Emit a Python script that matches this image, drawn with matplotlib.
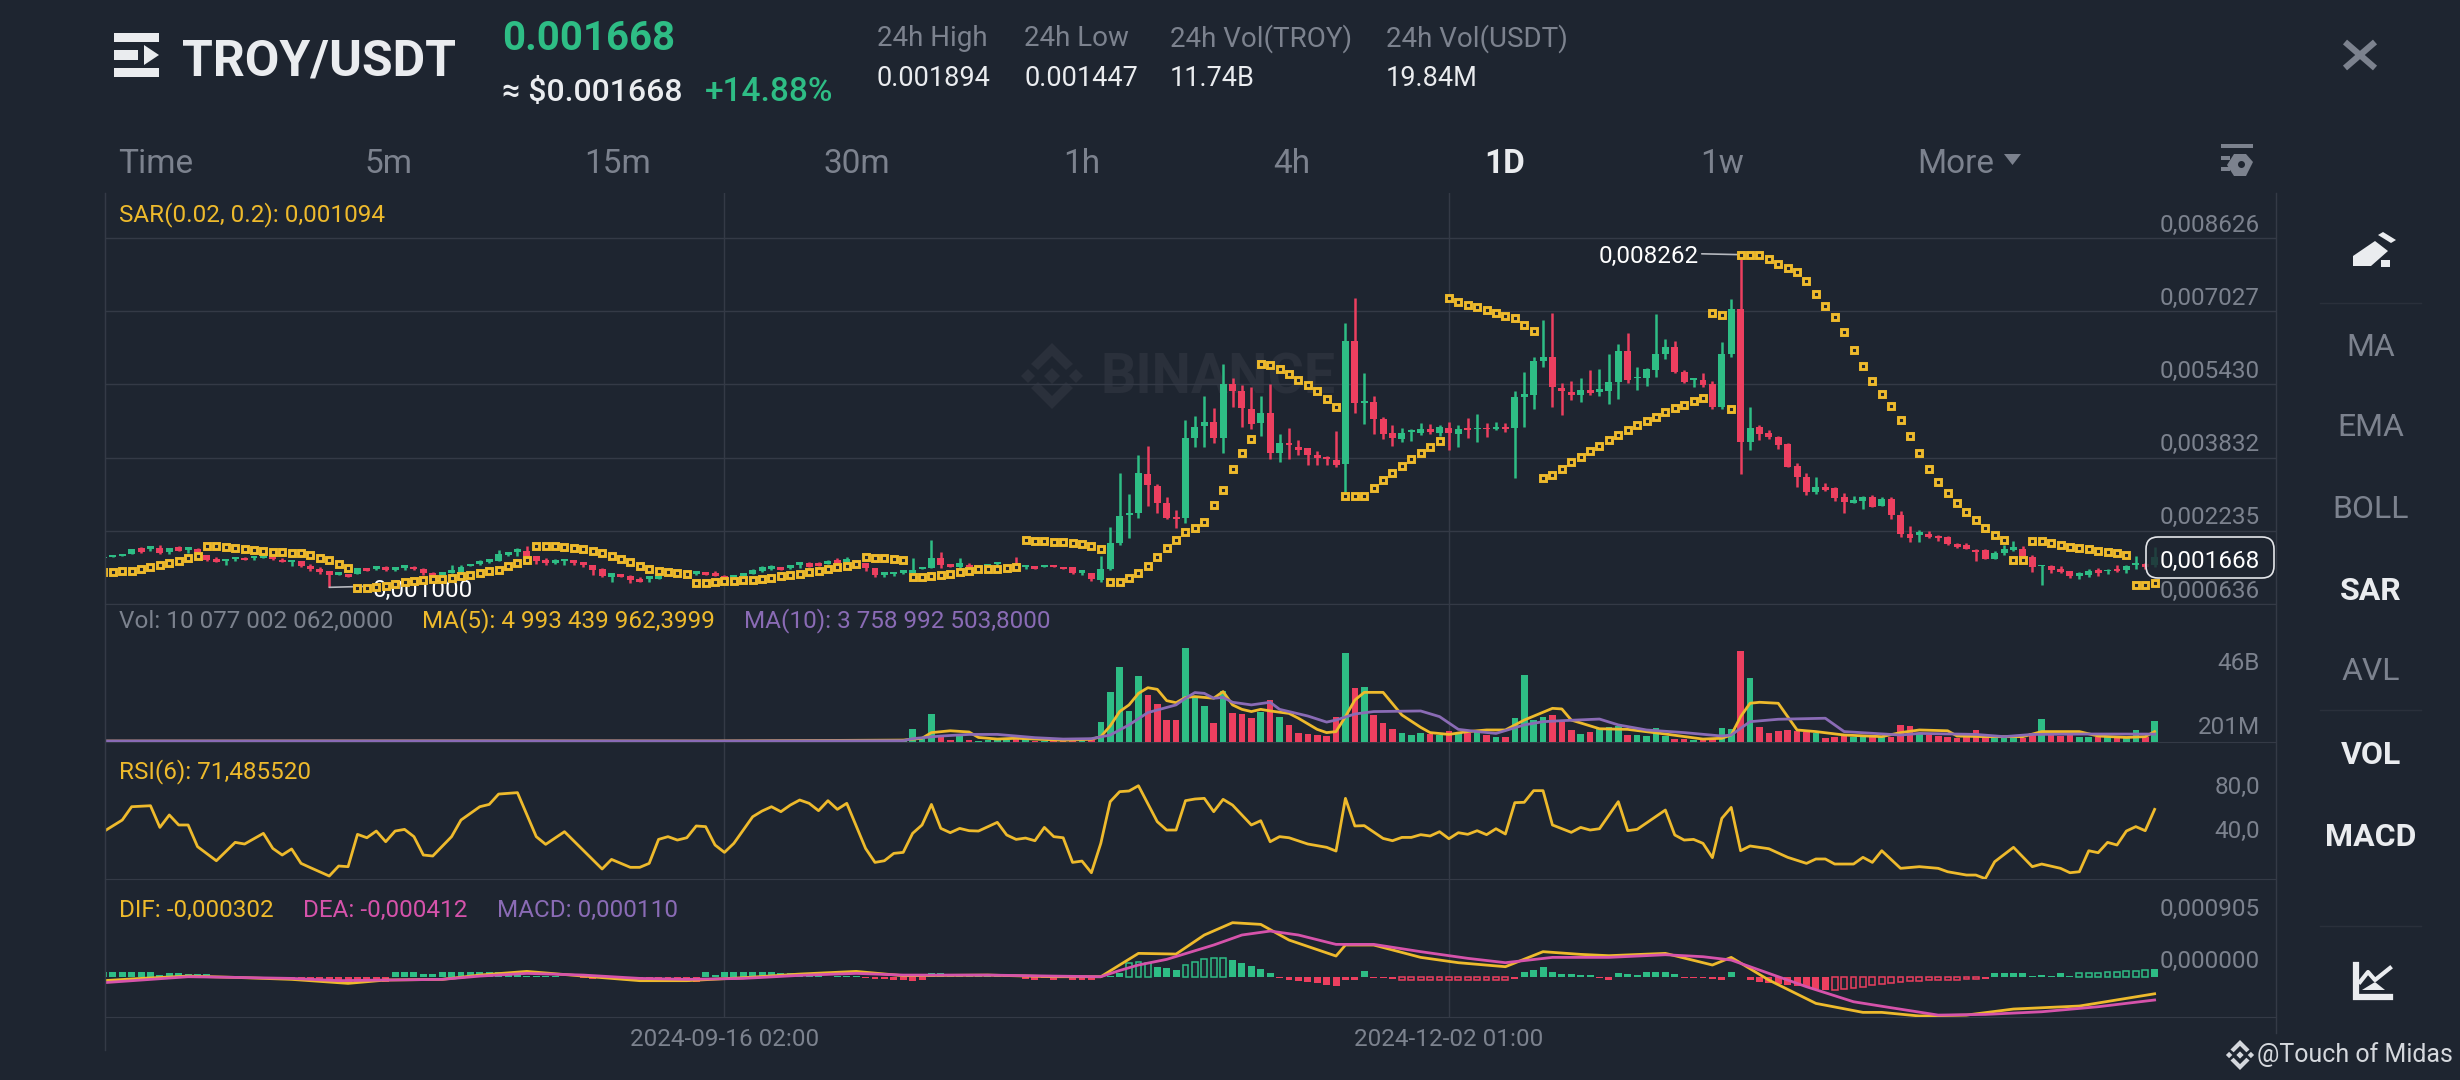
import matplotlib
matplotlib.use('Agg')
import numpy as np
import matplotlib.pyplot as plt
from matplotlib.patches import FancyBboxPatch, Polygon, Rectangle

plt.rcParams['font.family'] = ['Roboto', 'DejaVu Sans']

# prices are in millionths of a USDT, one entry per daily candle
opens = [1632,1662,1691,1727,1858,1843,1865,1771,1873,1814,
         1829,1698,1611,1582,1611,1647,1640,1647,1683,1603,
         1545,1582,1472,1407,1349,1269,1298,1290,1421,1407,
         1451,1378,1429,1451,1400,1305,1276,1320,1341,1465,
         1509,1560,1582,1713,1771,1800,1691,1596,1523,1567,
         1596,1552,1487,1407,1232,1290,1247,1181,1181,1181,
         1305,1290,1290,1290,1341,1320,1254,1218,1247,1290,
         1363,1407,1451,1429,1494,1523,1523,1509,1596,1560,
         1523,1538,1414,1276,1290,1320,1305,1393,1429,1647,
         1502,1451,1487,1415,1465,1502,1436,1487,1451,1465,
         1444,1487,1451,1451,1305,1305,1160,1407,1960,2572,
         2615,3474,3212,2834,2528,2506,4253,4522,4609,4253,
         5439,5293,4900,4580,4798,3940,4144,4071,4034,3881,
         3852,3780,3692,6385,5031,5046,4667,4362,4231,4384,
         4376,4449,4376,4485,4340,4471,4449,4485,4464,4500,
         4478,5162,5199,5948,6035,5359,5272,5206,5308,5264,
         5293,5482,6159,5562,5562,5744,6086,6254,5708,5526,
         5526,5431,4929,6094,7083,4180,4493,4362,4289,4122,
         3649,3401,3088,3197,3176,2965,2848,2892,2979,2775,
         2935,2579,2164,2135,2164,2120,2091,1946,1917,1815,
         1815,1626,1757,1815,1844,1669,1465,1465,1393,1349,
         1247,1262,1378,1349,1407,1378,1480,1509,1480]
highs = [1683,1698,1734,1836,1887,1902,1916,1858,1909,1873,
         1858,1698,1662,1625,1662,1669,1683,1698,1683,1640,
         1603,1582,1509,1451,1349,1327,1298,1421,1421,1458,
         1472,1436,1487,1465,1414,1327,1334,1480,1487,1509,
         1589,1618,1814,1778,1851,1902,1691,1632,1625,1625,
         1596,1552,1487,1429,1305,1290,1269,1218,1239,1276,
         1349,1334,1341,1349,1341,1363,1269,1276,1305,1400,
         1465,1487,1451,1487,1545,1552,1560,1596,1647,1662,
         1582,1538,1429,1334,1334,1370,1633,1451,2033,1778,
         1502,1633,1538,1465,1517,1546,1487,1669,1495,1465,
         1495,1487,1451,1451,1371,1305,1684,2310,3488,3038,
         3889,4085,3256,2979,2688,4653,4740,5177,4908,5875,
         5577,5410,5381,5177,5431,4347,4485,4216,4034,3983,
         3867,4413,6763,7309,5686,5177,4711,4544,4485,4449,
         4580,4566,4544,4602,4536,4689,4784,4595,4602,4580,
         5286,5701,6035,6836,6981,5453,5512,5577,5744,5766,
         6094,6312,6545,5817,5781,6960,6414,6378,5744,5562,
         5686,5512,6363,7294,8262,4929,4544,4434,4304,4144,
         3707,3488,3416,3285,3183,3052,2994,2994,3016,2965,
         2965,2666,2339,2251,2230,2142,2120,1960,1975,1829,
         1844,1800,1917,2019,1902,1713,1495,1487,1465,1364,
         1342,1393,1415,1393,1487,1480,1684,1538,1873]
lows = [1611,1655,1685,1727,1742,1800,1720,1727,1800,1742,
        1771,1567,1560,1487,1582,1589,1596,1640,1596,1545,
        1465,1451,1363,1290,1000,1269,1232,1283,1363,1385,
        1363,1349,1378,1378,1276,1225,1276,1320,1334,1465,
        1487,1523,1582,1683,1683,1683,1509,1480,1509,1487,
        1480,1451,1276,1232,1123,1218,1101,1108,1123,1181,
        1305,1290,1290,1261,1269,1254,1196,1218,1247,1290,
        1341,1378,1378,1392,1429,1451,1465,1509,1523,1560,
        1523,1363,1218,1232,1254,1283,1233,1393,1429,1415,
        1436,1415,1451,1415,1465,1451,1436,1378,1407,1393,
        1444,1444,1393,1284,1269,1131,1116,1378,1924,2069,
        2506,2775,2615,2484,2295,2412,4056,4071,4144,3925,
        4944,4493,4449,4304,3809,3743,3809,3889,3670,3670,
        3670,3634,3001,4813,4566,4340,4231,4085,4180,4202,
        4325,4340,4304,3998,4071,4253,4180,4289,4434,4384,
        3379,4493,4893,5817,4944,4755,5090,5046,5199,5177,
        4995,5111,5453,5308,5395,5584,5977,5672,5453,5381,
        5381,4886,4886,6021,3474,3998,4216,4231,4013,3634,
        3197,3016,3038,3110,2892,2615,2848,2717,2761,2775,
        2484,2106,1989,1989,2077,2004,1931,1858,1829,1582,
        1611,1626,1698,1786,1669,1335,1058,1305,1320,1196,
        1189,1233,1254,1284,1335,1320,1393,1393,1451]
closes = [1669,1698,1734,1836,1771,1902,1756,1858,1800,1873,
          1771,1596,1560,1625,1662,1589,1683,1698,1618,1560,
          1603,1472,1400,1334,1276,1327,1232,1421,1363,1458,
          1378,1436,1487,1392,1305,1232,1334,1378,1451,1509,
          1574,1618,1727,1778,1836,1683,1582,1523,1596,1625,
          1538,1480,1378,1247,1305,1218,1159,1116,1239,1276,
          1349,1334,1341,1349,1269,1254,1196,1276,1305,1378,
          1436,1472,1378,1487,1545,1451,1465,1582,1523,1611,
          1582,1414,1269,1334,1334,1370,1378,1451,1647,1487,
          1436,1524,1451,1465,1517,1546,1487,1378,1495,1393,
          1495,1444,1393,1320,1371,1174,1400,1960,2557,2630,
          3488,3227,2834,2506,2484,4253,4507,4609,4253,5439,
          5293,4908,4566,4798,3925,4144,4100,3998,3889,3823,
          3794,3663,6385,5017,5075,4667,4347,4253,4362,4434,
          4456,4391,4507,4362,4456,4434,4485,4449,4507,4464,
          5162,5213,5948,6021,5381,5293,5206,5308,5250,5330,
          5482,6159,5526,5599,5759,6086,6254,5708,5490,5562,
          5417,4929,6094,7083,4180,4478,4347,4289,4107,3634,
          3401,3088,3197,3125,2943,2855,2906,2965,2761,2935,
          2579,2164,2069,2208,2106,2069,1946,1887,1844,1778,
          1626,1742,1829,1873,1669,1436,1495,1378,1335,1247,
          1305,1364,1305,1378,1349,1465,1524,1436,1668]
sar = [1334,1341,1356,1363,1407,1451,1494,1538,1582,1640,1683,
       1902,1894,1887,1865,1836,1822,1800,1778,1763,1749,1742,1698,1647,1596,1509,1429,
       985,992,1014,1036,1072,1108,1138,1159,1181,1189,1210,1247,1269,1312,1349,1378,1465,1523,1589,
       1909,1909,1894,1873,1851,1829,1800,1756,1691,1611,1545,1472,1407,1363,1327,1305,1298,
       1101,1101,1116,1130,1145,1159,1167,1181,1210,1239,1261,1290,1327,1363,1392,1436,1472,1509,
       1654,1647,1632,1618,1603,
       1233,1233,1247,1269,1298,1327,1364,1393,1393,1400,1422,1444,
       2033,2019,2011,1997,1982,1975,1946,1895,1844,
       1109,1109,1211,1305,1458,1662,1858,2040,2215,2302,2419,2805,3132,3576,3925,4238,
       5883,5854,5766,5650,5526,5417,5286,5119,4944,
       3001,3001,3001,3176,3336,3496,3649,3801,3932,4071,4202,
       7309,7236,7171,7112,7054,6989,6923,6872,6734,6596,
       3379,3445,3590,3729,3852,3983,4093,4216,4325,4435,4537,4631,4726,4820,4908,4988,5068,5141,
       6981,6938,4893,
       8255,8255,8255,8160,8066,7978,7884,7695,7411,7149,6901,6581,6181,5832,5504,5213,4951,4660,4296,3925,3583,3292,3059,2834,2637,2470,2295,2150,2040,
       1589,1596,
       2019,2011,1960,1917,1888,1858,1829,1800,1771,1742,1706,
       1058,1058,1094]

# volume in billions of TROY
volume = [0.3,0.3,0.4,0.3,0.3,0.4,0.3,0.3,0.4,0.3,
          0.4,0.3,0.3,0.3,0.4,0.3,0.3,0.3,0.3,0.4,
          0.3,0.3,0.3,0.4,0.5,0.3,0.3,0.4,0.3,0.3,
          0.3,0.3,0.3,0.3,0.3,0.3,0.3,0.3,0.3,0.4,
          0.4,0.3,0.5,0.4,0.4,0.6,0.4,0.3,0.3,0.3,
          0.3,0.3,0.4,0.5,0.3,0.3,0.3,0.3,0.3,0.3,
          0.3,0.3,0.3,0.3,0.3,0.3,0.3,0.3,0.3,0.3,
          0.3,0.3,0.3,0.3,0.3,0.3,0.3,0.3,0.3,0.3,
          0.3,0.4,0.4,0.4,0.5,0.8,6.1,1.3,13.7,2.5,
          0.8,2.8,0.6,0.5,0.6,0.8,0.8,2.5,1.2,0.5,
          0.4,0.4,0.5,0.5,0.5,0.9,9.9,24.6,36.9,15.0,
          32.5,23.2,18.4,10.7,10.7,46.2,22.3,17.6,9.4,25.3,
          14.0,13.7,11.9,14.8,20.5,12.0,8.2,4.1,3.6,3.3,
          2.9,12.0,43.7,26.6,27.2,13.4,9.1,6.1,4.4,3.4,
          4.1,3.6,3.4,5.1,4.1,4.4,5.5,3.4,2.3,2.1,
          11.6,32.8,10.7,12.0,13.0,10.0,5.7,4.0,4.9,6.1,
          7.4,7.7,3.3,3.1,2.7,6.6,2.8,1.5,1.5,0.7,
          0.8,1.2,6.8,6.1,45.0,31.3,7.1,4.4,5.5,5.7,
          5.5,4.8,4.4,1.6,2.1,2.8,2.1,2.1,2.3,2.5,
          2.5,8.1,7.7,3.8,3.3,2.8,2.3,1.8,2.1,5.7,
          2.8,2.1,1.6,2.5,2.0,4.4,11.4,3.4,2.8,3.3,
          2.3,2.5,2.1,2.1,2.0,2.1,5.7,2.5,10.08]

ma5_days = [0,40,65,85,87,88,90,92,93,95,97,98,102,105,106,107,108,109,110,111,112,113,114,115,116,118,119,120,121,122,123,124,126,127,129,130,131,132,133,134,136,138,140,141,143,145,147,149,151,154,155,156,159,162,166,170,172,173,174,175,176,178,180,182,185,189,191,193,196,197,200,204,206,210,212,215,217,218]
ma5_vals = [0.3,0.4,0.35,0.8,1.7,4.5,5.4,4.8,2.1,1.3,1.7,1.5,0.7,1.2,2.5,7.8,14.9,18.2,23.9,26.7,25.9,20.3,19.3,21.9,22.3,21.5,24.8,18.2,16.0,14.9,16.0,15.2,14.0,11.6,6.1,4.5,5.0,12.4,20.6,24.4,24.4,13.2,7.1,4.5,3.6,5.0,5.8,5.8,10.7,16.5,16.2,10.7,6.4,6.1,3.8,1.3,1.7,3.3,12.4,19.0,19.5,19.0,5.8,5.0,3.3,2.5,4.5,5.8,5.4,2.8,2.5,2.5,5.0,5.0,2.8,2.1,2.5,4.99]
ma10_days = [0,40,65,85,86,89,92,95,97,99,102,105,107,109,111,114,115,116,117,118,119,120,122,124,125,128,130,131,133,135,140,142,144,146,148,151,153,155,159,161,164,168,172,173,175,178,183,185,191,193,199,202,205,211,218]
ma10_vals = [0.35,0.4,0.35,0.5,1.5,2.8,3.6,3.6,2.8,2.0,1.3,1.5,3.3,8.3,14.4,18.2,21.5,24.3,23.9,21.5,21.9,19.5,18.2,19.5,16.0,12.7,9.7,10.7,13.7,14.9,15.2,12.4,6.1,5.0,4.1,8.3,9.9,10.4,11.2,8.3,5.8,4.5,2.8,3.3,9.9,11.1,11.6,5.0,3.3,4.1,3.6,2.5,3.6,3.8,3.76]

rsi_days = [0,2,3,5,6,7,8,9,10,12,14,15,17,18,19,20,21,22,24,25,26,27,28,29,30,31,32,33,34,35,37,38,40,41,42,44,46,47,49,53,54,56,57,58,59,60,61,62,63,64,65,66,67,69,70,71,72,73,74,75,76,77,78,79,81,82,83,84,85,86,87,88,89,90,91,92,93,95,96,97,98,99,100,101,102,103,104,105,
            106,107,108,109,110,112,113,114,115,116,117,118,119,120,122,123,124,125,126,128,130,131,132,133,134,136,137,138,139,140,141,142,143,144,145,146,147,148,149,150,151,152,153,154,156,157,158,159,161,162,163,166,167,168,169,170,171,172,173,174,175,176,177,179,181,182,183,184,186,187,188,189,191,193,195,196,198,199,200,201,203,205,206,208,209,210,211,212,213,214,215,216,217,218]
rsi_vals = [51.2,61.8,73.9,74.8,55.1,66.4,57.3,57.3,37.6,24.8,41.5,40.0,49.7,36.0,30.0,35.5,22.4,18.5,10.9,20.0,19.4,48.8,45.7,51.8,42.1,51.8,53.3,46.7,30.0,29.1,46.7,61.8,73.9,76.0,85.4,86.7,46.7,39.7,51.2,17.3,26.0,18.8,18.8,22.4,44.2,46.7,43.6,45.7,56.4,55.8,39.1,32.4,40.6,64.8,70.0,73.9,69.4,75.4,80.0,77.0,70.3,79.4,71.5,77.0,36.0,23.3,24.8,31.5,32.4,49.7,57.3,76.0,54.2,50.3,54.2,52.1,51.8,59.7,48.2,44.2,45.4,43.0,55.1,46.7,45.7,23.3,24.5,13.9,
            40.6,78.5,87.6,88.2,93.0,60.3,52.7,52.7,79.4,80.9,81.5,69.4,80.6,75.4,57.3,61.2,42.1,46.7,45.7,40.0,37.0,33.6,81.5,56.4,56.7,45.1,43.0,46.0,46.0,48.5,47.3,51.2,44.8,50.3,48.8,52.1,48.5,53.9,49.1,77.6,77.9,88.5,88.5,57.3,50.6,55.1,52.7,53.9,78.5,52.1,53.3,70.9,48.2,43.6,44.2,40.6,27.6,63.3,73.3,33.9,38.2,37.0,35.7,27.9,22.4,26.4,26.4,21.8,21.8,27.9,23.3,33.9,17.9,19.4,17.9,14.8,11.8,11.8,8.5,23.9,37.0,19.4,21.8,17.9,13.9,14.8,33.9,32.1,41.5,39.1,51.8,55.8,52.1,71.49]

# MACD panel, millionths of a USDT
dif_days = [0,4,9,14,20,26,30,36,40,45,51,57,62,68,74,80,85,94,101,106,108,110,114,117,120,123,126,131,132,135,140,144,149,153,157,160,166,171,173,177,182,187,189,193,198,203,210,218]
dif_vals = [-70,-30,11,-12,-47,-118,-59,-47,29,94,11,-70,-70,-18,47,94,18,29,0,0,207,413,401,738,956,926,649,366,561,561,342,248,177,443,395,372,413,207,342,-59,-472,-631,-631,-695,-679,-572,-519,-302]
dea_days = [0,4,9,14,20,25,30,36,40,45,51,57,62,68,74,80,85,94,101,106,108,110,113,118,121,124,127,131,135,140,145,149,154,160,166,170,173,177,181,186,190,195,200,206,212,218]
dea_vals = [-106,-59,0,-12,-30,-70,-59,-47,11,59,29,-30,-47,-30,24,59,29,29,11,0,110,207,307,561,738,808,738,572,572,443,325,248,342,342,389,354,295,59,-177,-443,-549,-679,-667,-620,-531,-412]
macd_hist = [88,88,88,88,88,75,30,70,60,50,
             45,40,5,-10,-30,-40,-45,-30,-40,-40,
             -35,-40,-40,-50,-55,-95,-100,-100,-100,-100,
             -100,90,90,90,50,40,85,85,85,85,
             85,85,85,85,85,15,10,8,5,-5,
             -8,-30,-35,-30,-35,-35,-40,-40,-95,-95,
             -95,-95,-95,-95,85,35,85,85,85,85,
             80,75,70,65,60,15,10,-5,8,10,
             5,-15,-35,-40,-50,-60,-70,-60,60,60,
             30,10,5,5,50,50,10,5,-40,-55,
             -30,-55,-30,-50,-55,-60,-10,15,60,236,
             260,248,177,147,118,207,265,307,325,325,
             295,236,189,136,59,-30,-50,-70,-85,-118,
             -148,-165,-60,-60,100,-20,-30,-40,-50,-60,
             -65,-60,-65,-60,-55,-50,-50,-50,-50,-50,
             -45,90,110,170,80,50,40,30,25,-20,
             -50,70,40,30,85,85,85,40,-15,-20,
             -25,-45,-50,80,-10,-60,-90,-110,-130,-150,
             -165,-180,-210,-230,-240,-225,-205,-175,-145,-125,
             -105,-90,-70,-70,-65,-60,-55,-50,-45,-45,
             -45,70,70,70,70,20,25,20,60,20,
             60,65,70,75,85,95,105,120,130]
# histogram bars that the app draws as outlines
hollow_days = [109,110,111,115,116,117,118,119,138,139,140,141,142,143,144,145,146,147,148,149,
               184,185,186,187,188,189,190,191,192,193,194,195,196,197,198,199,210,211,212,213,214,215,216,217]

price_ticks = [8626, 7027, 5430, 3832, 2235, 636]
price_tick_labels = ['0,008626', '0,007027', '0,005430', '0,003832', '0,002235', '0,000636']
date_days = [66, 143]
date_labels = ['2024-09-16 02:00', '2024-12-02 01:00']
timeframes = ['Time', '5m', '15m', '30m', '1h', '4h', '1D', '1w', 'More']
side_items = ['MA', 'EMA', 'BOLL', 'SAR', 'AVL', 'VOL', 'MACD']
side_active = ['SAR', 'VOL', 'MACD']

BG = '#1e2530'
GRID = '#343a46'
GREEN = '#2ebd85'
RED = '#ec3f5f'
YELLOW = '#eeba2c'
PURPLE = '#8a6bb5'
PINK = '#d653ab'
GRAY = '#7c828e'
WHITE = '#eaecef'
FAINT = '#2a303b'

W, H = 2460, 1080
L, R = 105, 2276
days = np.arange(len(closes))
opens, closes = np.array(opens), np.array(closes)
up = closes >= opens
colors = np.where(up, GREEN, RED)
XLIM = (0.166, 230.9)
BAR_W = 0.74
CAPTION = 17.5


def panel(top, bottom):
    ax = fig.add_axes([L / W, 1 - bottom / H, (R - L) / W, (bottom - top) / H])
    ax.set_facecolor('none')
    ax.set_xlim(*XLIM)
    ax.set_xticks(date_days)
    ax.set_xticklabels([])
    ax.set_yticks([])
    ax.tick_params(length=0)
    ax.grid(axis='x', color=GRID, lw=1)
    ax.set_axisbelow(True)
    for s in ax.spines.values():
        s.set_visible(False)
    ax.spines['left'].set_visible(True)
    ax.spines['left'].set_color(GRID)
    ax.spines['bottom'].set_visible(True)
    ax.spines['bottom'].set_color(GRID)
    return ax


def right_label(ax, y, text, color=GRAY, dy=-13):
    ax.annotate(text, xy=(0.9926, y), xycoords=('axes fraction', 'data'),
                xytext=(0, -dy * 0.72), textcoords='offset points',
                ha='right', va='center', fontsize=CAPTION, color=color)


fig = plt.figure(figsize=(W / 100, H / 100), dpi=100, facecolor=BG)

# watermark sits under all the panels
back = fig.add_axes([0, 0, 1, 1], zorder=-1)
back.set_xlim(0, W)
back.set_ylim(H, 0)
back.axis('off')
back.text(1100, 378, 'BINANCE', color=FAINT, fontsize=40, fontweight='bold', va='center')


def diamond_logo(target, cx, cy, r, color):
    s = r / 33
    for dx, d in [(0, 8), (-24, 7), (24, 7)]:
        target.add_patch(Polygon([(cx + dx * s, cy - d * s), (cx + (dx + d) * s, cy),
                                  (cx + dx * s, cy + d * s), (cx + (dx - d) * s, cy)],
                                 color=color, lw=0))
    for sign in (-1, 1):
        target.add_patch(Polygon([(cx, cy + sign * 33 * s), (cx + 21 * s, cy + sign * 12 * s),
                                  (cx + 14 * s, cy + sign * 6 * s), (cx, cy + sign * 20 * s),
                                  (cx - 14 * s, cy + sign * 6 * s), (cx - 21 * s, cy + sign * 12 * s)],
                                 color=color, lw=0))


diamond_logo(back, 1052, 376, 33, FAINT)

# price panel
ax = panel(193, 604)
ax.set_ylim(636, 636 + 411 * 21.83)
ax.set_yticks(price_ticks)
ax.set_yticklabels([])
ax.grid(axis='y', color=GRID, lw=1)
for y, t in zip(price_ticks, price_tick_labels):
    right_label(ax, y, t)
ax.vlines(days, lows, highs, colors=colors, lw=1.8, zorder=3)
ax.bar(days, closes - opens, bottom=opens, width=BAR_W, color=colors, zorder=3)
ax.annotate('0,001000', xy=(24, 1000), xytext=(31, -2.5), textcoords='offset points',
            color='white', fontsize=CAPTION, va='center', ha='left', zorder=4,
            arrowprops=dict(arrowstyle='-', color='#b5b8be', lw=1.2, shrinkA=0, shrinkB=0,
                            relpos=(0, 0.7)))
ax.annotate('0,008262', xy=(174, 8262), xytext=(-30, -1), textcoords='offset points',
            color='white', fontsize=CAPTION, va='center', ha='right', zorder=4,
            arrowprops=dict(arrowstyle='-', color='#b5b8be', lw=1.2, shrinkA=0, shrinkB=0,
                            relpos=(1, 0.6)))
ax.plot(days, sar, ls='none', marker='s', ms=4.2, mew=2.1, mec=YELLOW, mfc='#23262b', zorder=5)

# volume panel
ax_vol = panel(604, 741.7)
ax_vol.set_ylim(0, 68.1)
ax_vol.bar(days, volume, width=0.7, color=colors, zorder=3)
ax_vol.plot(ma5_days, ma5_vals, color=YELLOW, lw=2, zorder=4)
ax_vol.plot(ma10_days, ma10_vals, color=PURPLE, lw=2, zorder=4)
right_label(ax_vol, 46, '46B', dy=15)
right_label(ax_vol, 0.2, '201M', dy=-14)

# rsi panel
ax_rsi = panel(741.7, 879)
ax_rsi.set_ylim(8.2, 133)
ax_rsi.plot(rsi_days, rsi_vals, color=YELLOW, lw=2, zorder=4)
right_label(ax_rsi, 80, '80,0', dy=-13)
right_label(ax_rsi, 40, '40,0', dy=-13)

# macd panel
ax_macd = panel(879, 1016.5)
ax_macd.set_ylim(-704, 1729)
hist = np.array(macd_hist)
hist_colors = np.where(hist >= 0, GREEN, RED)
hollow = np.isin(days, hollow_days)
ax_macd.bar(days[~hollow], hist[~hollow], width=BAR_W, color=hist_colors[~hollow], zorder=3)
ax_macd.bar(days[hollow], hist[hollow], width=BAR_W - 0.12, facecolor=BG,
            edgecolor=hist_colors[hollow], lw=1.1, zorder=3)
ax_macd.plot(dif_days, dif_vals, color=YELLOW, lw=2, zorder=4)
ax_macd.plot(dea_days, dea_vals, color=PINK, lw=2, zorder=4)
right_label(ax_macd, 905, '0,000905', dy=-16)
right_label(ax_macd, 0, '0,000000', dy=-15)

# header, side bar and other screen furniture, laid out in screen pixels
ui = fig.add_axes([0, 0, 1, 1], zorder=10)
ui.set_xlim(0, W)
ui.set_ylim(H, 0)
ui.axis('off')
ui.patch.set_alpha(0)


def txt(x, y, s, color=GRAY, size=CAPTION, ha='left', weight='normal'):
    ui.text(x, y, s, color=color, fontsize=size, ha=ha, va='center', fontweight=weight)


# axis frame bits
ui.plot([R, R], [193, 1033], color=GRID, lw=1)
ui.plot([104.5, 104.5], [193, 1050], color=GRID, lw=1)

# indicator captions
txt(119, 215, 'SAR(0.02, 0.2): 0,001094', YELLOW)
txt(119, 621, 'Vol: 10 077 002 062,0000', GRAY)
txt(422, 621, 'MA(5): 4 993 439 962,3999', YELLOW)
txt(744, 621, 'MA(10): 3 758 992 503,8000', PURPLE)
txt(119, 772, 'RSI(6): 71,485520', YELLOW)
txt(119, 910, 'DIF: -0,000302', YELLOW)
txt(303, 910, 'DEA: -0,000412', PINK)
txt(497, 910, 'MACD: 0,000110', PURPLE)
for d, s in zip(date_days, date_labels):
    x = L + (d - XLIM[0]) / (XLIM[1] - XLIM[0]) * (R - L)
    txt(x, 1039, s, GRAY, ha='center')

# last price tag
ui.add_patch(FancyBboxPatch((2152, 543), 116, 29, boxstyle='round,pad=6,rounding_size=12',
                            fc=BG, ec='none', alpha=0.82))
ui.add_patch(FancyBboxPatch((2152, 543), 116, 29, boxstyle='round,pad=6,rounding_size=12',
                            fc='none', ec='#e4e6ea', lw=1.2))
txt(2260, 561, '0,001668', 'white', ha='right')

# header
for y0, h in [(33, 9), (68, 9)]:
    ui.add_patch(Rectangle((114, y0), 45, h, color=WHITE, lw=0))
ui.add_patch(Rectangle((114, 50), 24, 10, color=WHITE, lw=0))
ui.add_patch(Polygon([(144, 45), (144, 65), (159, 55)], color=WHITE, lw=0))
txt(182, 62, 'TROY/USDT', WHITE, 36, weight='bold')
txt(502, 39, '0.001668', GREEN, 29, weight='bold')
txt(502, 92, '≈ $0.001668', WHITE, 23, weight='medium')
txt(705, 92, '+14.88%', GREEN, 24, weight='medium')
stats_x = [877, 1024, 1170, 1386]
stats_head = ['24h High', '24h Low', '24h Vol(TROY)', '24h Vol(USDT)']
stats_val = ['0.001894', '0.001447', '11.74B', '19.84M']
for x, a, b in zip(stats_x, stats_head, stats_val):
    txt(x, 39, a, GRAY, 20)
    txt(x, 79, b, WHITE, 19.5)

# time frame row
frame_x = [118, 389, 618, 857, 1082, 1292, 1505, 1722, 1917]
for x, s in zip(frame_x, timeframes):
    if s == '1D':
        txt(x, 164, s, WHITE, 24, ha='center', weight='bold')
    elif s in ('Time', 'More'):
        txt(x, 164, s, GRAY, 24)
    else:
        txt(x, 164, s, GRAY, 24, ha='center')
ui.add_patch(Polygon([(2004, 154), (2021, 154), (2012.5, 165)], color=GRAY, lw=0))
ui.add_patch(Rectangle((2221, 144), 32, 4, color=GRAY, lw=0))
ui.add_patch(Rectangle((2221, 156), 9, 4, color=GRAY, lw=0))
ui.add_patch(Rectangle((2221, 167), 9, 4, color=GRAY, lw=0))
ui.add_patch(Polygon([(2234, 154), (2246, 154), (2253, 162), (2246, 176), (2234, 176), (2227, 165)],
                     color=GRAY, lw=0))
ui.plot([2241], [164], marker='o', ms=4, color=BG)

# close cross
ui.plot([2345, 2375], [42, 68], color=GRAY, lw=4.5, solid_capstyle='butt')
ui.plot([2345, 2375], [68, 42], color=GRAY, lw=4.5, solid_capstyle='butt')

# side bar
side_y = [347, 428, 509, 591, 672, 755, 837]
for y, s in zip(side_y, side_items):
    if s in side_active:
        txt(2371, y, s, WHITE, 23, ha='center', weight='bold')
    else:
        txt(2371, y, s, GRAY, 23, ha='center')
for y in [303, 710, 926]:
    ui.plot([2320, 2421], [y, y], color=FAINT, lw=1)
# pencil icon
ui.add_patch(Polygon([(2353, 266), (2353, 256), (2375, 241), (2388, 251), (2371, 266)],
                     color=WHITE, lw=0))
ui.add_patch(Polygon([(2378, 235), (2383, 232), (2396, 240), (2391, 243)], color=WHITE, lw=0))
ui.add_patch(Rectangle((2381, 260), 9, 7, color=WHITE, lw=0))
# chart icon
ui.plot([2356, 2356, 2390], [965, 997, 997], color=WHITE, lw=4.5, solid_joinstyle='miter')
ui.plot([2360, 2368, 2375, 2390], [982, 972, 980, 968], color=WHITE, lw=3)
ui.add_patch(Polygon([(2362, 990), (2375, 982), (2385, 990)], color=WHITE, lw=0))

# credit
diamond_logo(ui, 2240, 1055, 15, '#d5d8dd')
txt(2257, 1055, '@Touch of Midas', '#d5d8dd', 18)

fig.savefig('out.png', dpi=100, facecolor=BG)
